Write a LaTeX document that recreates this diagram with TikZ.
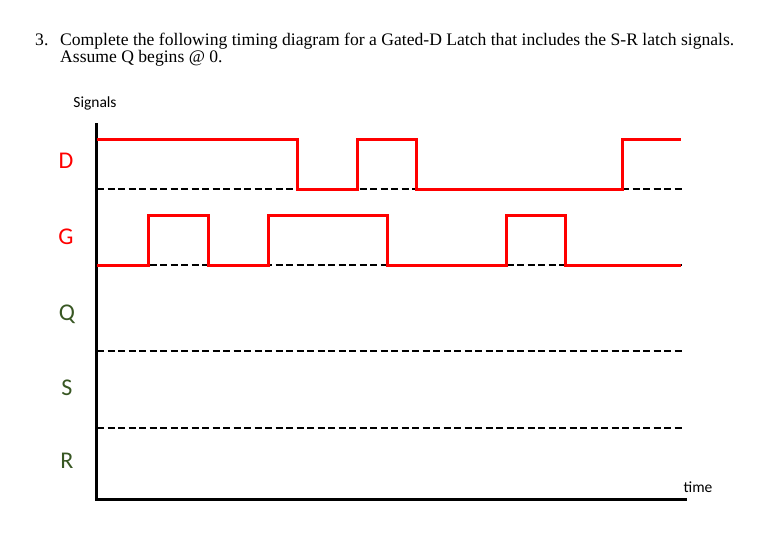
\documentclass[tikz,border=0pt]{standalone}
\usepackage{fontspec}
\setmainfont{Liberation Serif}
\newfontfamily\calib{Carlito}
\definecolor{sigred}{RGB}{255,0,0}
\definecolor{siggreen}{RGB}{56,87,35}
\begin{document}
\begin{tikzpicture}[x=1pt,y=-1pt,
  wave/.style={draw=sigred,line width=3pt,line join=miter},
  axis/.style={draw=black,line width=3pt},
  guide/.style={draw=black,line width=2.3pt,dash pattern=on 7pt off 3.5pt},
  redlab/.style={font=\calib\fontsize{24}{28}\selectfont,text=sigred,inner sep=0pt},
  greenlab/.style={font=\calib\fontsize{24}{28}\selectfont,text=siggreen,inner sep=0pt},
  smalllab/.style={font=\calib\fontsize{15.5}{18}\selectfont,inner sep=0pt},
  titletext/.style={font=\fontsize{17.6}{18}\selectfont,inner sep=0pt,anchor=base west}]
\useasboundingbox (0,0) rectangle (776,533);
% title
\node[titletext] (num) at (35,45) {3.};
\node[titletext] (line1) at (60,45) {Complete the following timing diagram for a Gated-D Latch that includes the S-R latch signals.};
\node[titletext] (line2) at (60,62) {Assume Q begins @ 0.};
% labels
\node[smalllab] (signals) at (95,103) {Signals};
\node[redlab] (lD) at (66,161) {D};
\node[redlab] (lG) at (66,237) {G};
\node[greenlab] (lQ) at (67,314) {Q};
\node[greenlab] (lS) at (67,388) {S};
\node[greenlab] (lR) at (67,461) {R};
\node[smalllab] (time) at (698,487) {time};
% axes
\coordinate (top) at (96,123);
\coordinate (origin) at (96,499);
\coordinate (xend) at (687,499);
\draw[axis] (top) -- (origin) -- (xend);
% guide lines
\draw[guide] (97,189) -- (682,189);
\draw[guide] (97,265) -- (682,265);
\draw[guide] (97,351) -- (682,351);
\draw[guide] (97,428) -- (682,428);
% D waveform
\draw[wave] (97,139) -- (297,139) -- (297,189) -- (357,189) -- (357,139) -- (416,139)
  -- (416,189) -- (622,189) -- (622,139) -- (681,139);
% G waveform
\draw[wave] (97,265) -- (148,265) -- (148,215) -- (208,215) -- (208,265) -- (268,265)
  -- (268,215) -- (387,215) -- (387,265) -- (506,265) -- (506,215) -- (565,215)
  -- (565,265) -- (681,265);
\end{tikzpicture}
\end{document}
